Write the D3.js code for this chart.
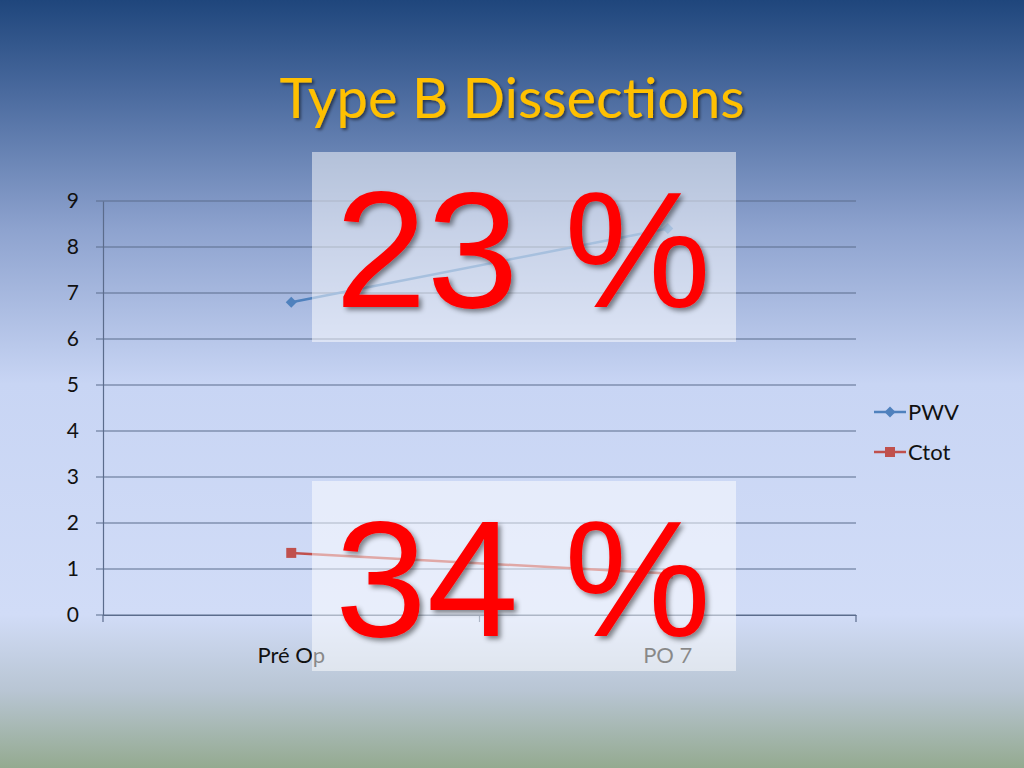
<!DOCTYPE html>
<html>
<head>
<meta charset="utf-8">
<script src="https://cdn.jsdelivr.net/npm/d3@7"></script>
<style>
  html, body { margin: 0; padding: 0; }
  body { width: 1024px; height: 768px; overflow: hidden; }
</style>
</head>
<body>
<div id="slide"></div>
<script>
// Chart data
const categories = ["Pré Op", "PO 7"];
const pwvValues = [6.8, 8.4];
const ctotValues = [1.35, 0.9];
const yTicks = [0, 1, 2, 3, 4, 5, 6, 7, 8, 9];
const seriesNames = ["PWV", "Ctot"];
const overlayLabels = ["23 %", "34 %"];

const width = 1024, height = 768;
const svg = d3.select("#slide").append("svg")
    .attr("width", width)
    .attr("height", height);

// Background gradient of the slide
const defs = svg.append("defs");
const bg = defs.append("linearGradient")
    .attr("id", "bg").attr("x1", 0).attr("y1", 0).attr("x2", 0).attr("y2", 1);
[[0, "#1f467c"], [0.12, "#4a6a9e"], [0.3, "#8ea3cf"], [0.5, "#c8d5f4"],
 [0.8, "#d1dcf7"], [0.9, "#b8c5d3"], [1, "#94aa90"]].forEach(s => {
    bg.append("stop").attr("offset", s[0]).attr("stop-color", s[1]);
});
svg.append("rect").attr("width", width).attr("height", height).attr("fill", "url(#bg)");

// Drop shadow filters
const shadow = defs.append("filter").attr("id", "shadow")
    .attr("x", "-10%").attr("y", "-10%").attr("width", "130%").attr("height", "130%");
shadow.append("feDropShadow").attr("dx", 3).attr("dy", 3).attr("stdDeviation", 2.5)
    .attr("flood-color", "#000").attr("flood-opacity", 0.45);
const tshadow = defs.append("filter").attr("id", "tshadow");
tshadow.append("feDropShadow").attr("dx", 2).attr("dy", 2).attr("stdDeviation", 1.5)
    .attr("flood-color", "#000").attr("flood-opacity", 0.5);

const font = "Lato, 'Open Sans', sans-serif";

// Title
svg.append("text")
    .attr("x", 512).attr("y", 118)
    .attr("text-anchor", "middle")
    .attr("fill", "#ffc000")
    .attr("filter", "url(#tshadow)")
    .style("font-family", font)
    .style("font-size", "56px")
    .text("Type B Dissections");

// Plot area
const margin = {top: 201, left: 103, right: 168, bottom: 153};
const plotW = width - margin.left - margin.right;
const plotH = height - margin.top - margin.bottom;
const g = svg.append("g").attr("transform", `translate(${margin.left},${margin.top})`);

const x = d3.scaleBand().domain(categories).range([0, plotW]);
const y = d3.scaleLinear().domain([0, 9]).range([plotH, 0]);

// Gridlines
g.selectAll(".grid").data(yTicks).enter().append("line")
    .attr("x1", -7).attr("x2", plotW)
    .attr("y1", d => y(d)).attr("y2", d => y(d))
    .attr("stroke", "#5b6c8c").attr("stroke-width", 1.2);

// Y axis
const yAxis = g.append("g").call(d3.axisLeft(y).tickValues(yTicks).tickSize(0).tickPadding(24));
yAxis.select(".domain").attr("stroke", "#5b6c8c").attr("stroke-width", 1.2);
yAxis.selectAll("text")
    .attr("fill", "#111")
    .style("font-family", font)
    .style("font-size", "21px");

// X axis
const xAxis = g.append("g").attr("transform", `translate(0,${plotH})`)
    .call(d3.axisBottom(x).tickSize(0).tickPadding(32));
xAxis.select(".domain").attr("stroke", "#5b6c8c").attr("stroke-width", 1.2);
xAxis.selectAll("text")
    .attr("fill", "#111")
    .style("font-family", font)
    .style("font-size", "22px");
// band boundary ticks
const bounds = [0, x.bandwidth(), plotW];
g.selectAll(".xt").data(bounds).enter().append("line")
    .attr("x1", d => d).attr("x2", d => d)
    .attr("y1", plotH).attr("y2", plotH + 7)
    .attr("stroke", "#5b6c8c").attr("stroke-width", 1.2);

const cx = d => x(d) + x.bandwidth() / 2;
const line = d3.line().x(d => cx(d.c)).y(d => y(d.v));

// diamond = square turned 45 degrees
const series = [
    {name: seriesNames[0], values: pwvValues, color: "#4f81bd", rot: 45, size: 60},
    {name: seriesNames[1], values: ctotValues, color: "#c0504d", rot: 0, size: 100}
];

series.forEach(s => {
    const pts = categories.map((c, i) => ({c: c, v: s.values[i]}));
    g.append("path").datum(pts)
        .attr("fill", "none").attr("stroke", s.color).attr("stroke-width", 2.5)
        .attr("d", line);
    g.selectAll(null).data(pts).enter().append("path")
        .attr("transform", d => `translate(${cx(d.c)},${y(d.v)}) rotate(${s.rot})`)
        .attr("d", d3.symbol().type(d3.symbolSquare).size(s.size))
        .attr("fill", s.color);
});

// Legend
const legend = svg.append("g").attr("transform", "translate(874,412)");
series.forEach((s, i) => {
    const lg = legend.append("g").attr("transform", `translate(0,${i * 40})`);
    lg.append("line").attr("x1", 0).attr("x2", 32).attr("y1", 0).attr("y2", 0)
        .attr("stroke", s.color).attr("stroke-width", 2.5);
    lg.append("path").attr("transform", `translate(16,0) rotate(${s.rot})`)
        .attr("d", d3.symbol().type(d3.symbolSquare).size(s.size))
        .attr("fill", s.color);
    lg.append("text").attr("x", 34).attr("y", 8)
        .attr("fill", "#111")
        .style("font-family", font)
        .style("font-size", "22px")
        .text(s.name);
});

// Overlay boxes with big percentages
const boxes = [{y: 152, label: overlayLabels[0]}, {y: 481, label: overlayLabels[1]}];
boxes.forEach(b => {
    svg.append("rect")
        .attr("x", 312).attr("y", b.y).attr("width", 424).attr("height", 190)
        .attr("fill", "#ffffff").attr("fill-opacity", 0.5);
    svg.append("text")
        .attr("x", 523).attr("y", b.y + 155)
        .attr("text-anchor", "middle")
        .attr("fill", "#ff0000")
        .attr("filter", "url(#shadow)")
        .style("font-family", "'Liberation Sans', Arial, sans-serif")
        .style("font-size", "165px")
        .text(b.label);
});
</script>
</body>
</html>
